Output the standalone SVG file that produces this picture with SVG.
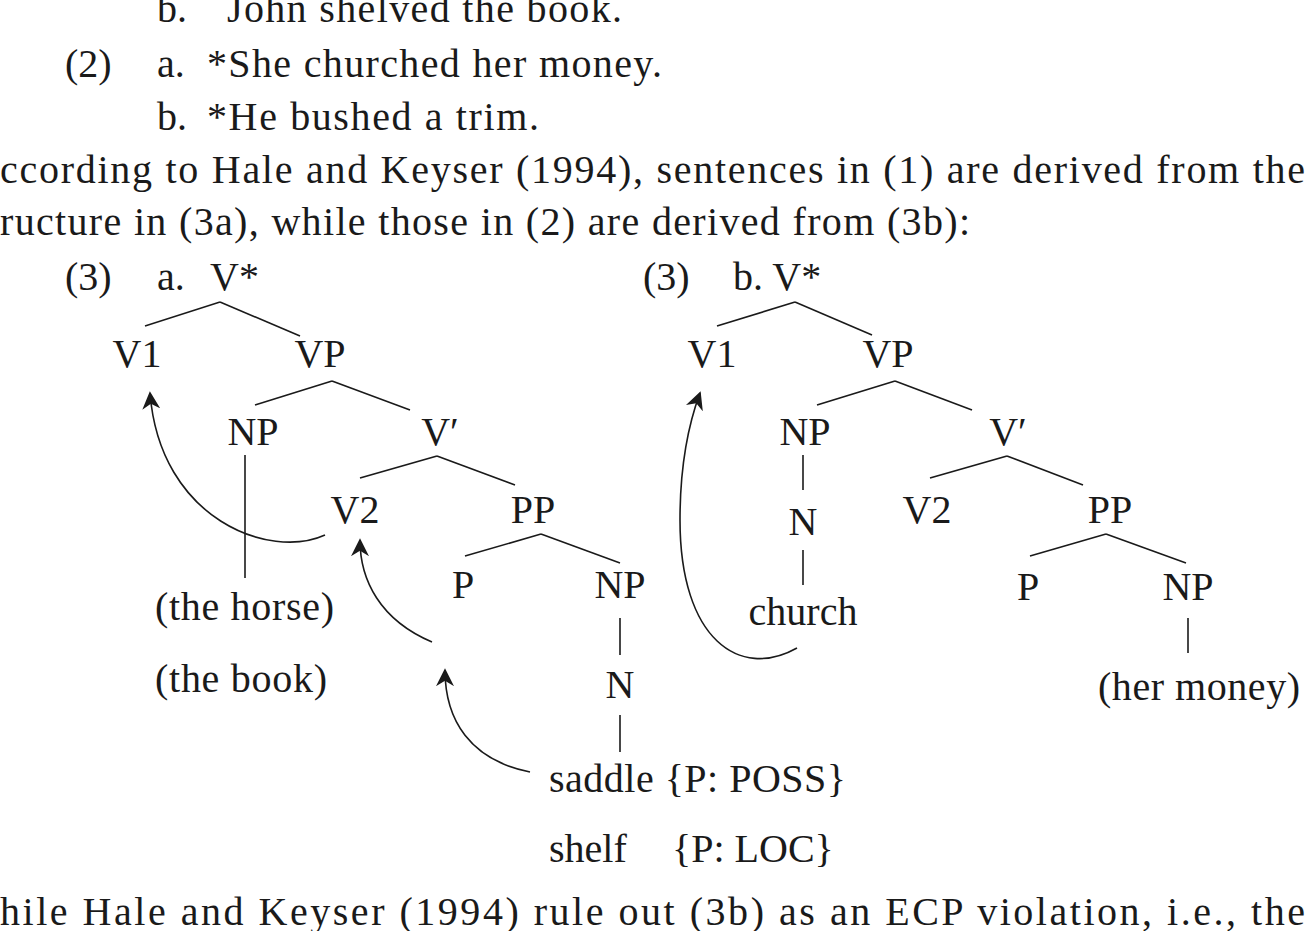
<svg xmlns="http://www.w3.org/2000/svg" width="1311" height="931" viewBox="0 0 1311 931">
<style>
text{font-family:"Liberation Serif","Times New Roman",serif;font-size:40px;fill:#1a1a1a}
.m{text-anchor:middle}
line,path{stroke:#1a1a1a;stroke-width:1.6;fill:none}
</style>
<defs><marker id="ah" viewBox="0 0 10 10" refX="9" refY="5" markerWidth="18" markerHeight="18" markerUnits="userSpaceOnUse" orient="auto"><path d="M0,0 L10,5 L0,10 L3,5 Z" style="fill:#1a1a1a;stroke:none"/></marker></defs>
<rect width="1311" height="931" fill="#fff"/>
<g id="text">
<text x="157" y="22">b.</text><text x="227" y="22" textLength="395" lengthAdjust="spacing">John shelved the book.</text>
<text x="65" y="77">(2)</text><text x="157" y="77">a.</text><text x="207" y="77" textLength="455" lengthAdjust="spacing">*She churched her money.</text>
<text x="157" y="130">b.</text><text x="207" y="130" textLength="332" lengthAdjust="spacing">*He bushed a trim.</text>
<text x="0" y="183" textLength="1305" lengthAdjust="spacing">ccording to Hale and Keyser (1994), sentences in (1) are derived from the</text>
<text x="0" y="235" textLength="970" lengthAdjust="spacing">ructure in (3a), while those in (2) are derived from (3b):</text>
<text x="0" y="925" textLength="1305" lengthAdjust="spacing">hile Hale and Keyser (1994) rule out (3b) as an ECP violation, i.e., the</text>
</g>
<g id="treeA">
<text x="65" y="290">(3)</text><text x="157" y="290">a.</text><text x="210" y="290">V*</text>
<text class="m" x="137" y="367">V1</text><text class="m" x="320" y="367">VP</text>
<text class="m" x="253" y="445">NP</text><text class="m" x="440" y="445">V′</text>
<text class="m" x="355" y="523">V2</text><text class="m" x="533" y="523">PP</text>
<text class="m" x="463" y="598">P</text><text class="m" x="620" y="598">NP</text>
<text class="m" x="620" y="698">N</text>
<text x="549" y="792" textLength="297" lengthAdjust="spacing">saddle {P: POSS}</text>
<text x="549" y="862">shelf</text><text x="672" y="862">{P: LOC}</text>
<text x="155" y="620" textLength="179" lengthAdjust="spacing">(the horse)</text>
<text x="155" y="692" textLength="172" lengthAdjust="spacing">(the book)</text>
</g>
<g id="treeB">
<text x="643" y="290">(3)</text><text x="733" y="290">b. V*</text>
<text class="m" x="712" y="367">V1</text><text class="m" x="888" y="367">VP</text>
<text class="m" x="805" y="445">NP</text><text class="m" x="1008" y="445">V′</text>
<text class="m" x="803" y="535">N</text>
<text class="m" x="803" y="625">church</text>
<text class="m" x="927" y="523">V2</text><text class="m" x="1110" y="523">PP</text>
<text class="m" x="1028" y="600">P</text><text class="m" x="1188" y="600">NP</text>
<text class="m" x="1199" y="700" textLength="202" lengthAdjust="spacing">(her money)</text>
</g>
<g id="connectors">
<line x1="220" y1="302" x2="145" y2="326"/><line x1="220" y1="302" x2="300" y2="336"/>
<line x1="332" y1="381" x2="255" y2="405"/><line x1="332" y1="381" x2="410" y2="410"/>
<line x1="437" y1="456" x2="360" y2="478"/><line x1="437" y1="456" x2="515" y2="485"/>
<line x1="541" y1="534" x2="465" y2="556"/><line x1="541" y1="534" x2="620" y2="563"/>
<line x1="620" y1="618" x2="620" y2="655"/><line x1="620" y1="715" x2="620" y2="752"/>
<line x1="245" y1="455" x2="245" y2="578"/>
<path d="M325,535 C270,560 160,520 150,393" marker-end="url(#ah)"/>
<path d="M432,642 C380,620 360,580 360,540" marker-end="url(#ah)"/>
<path d="M530,772 C470,760 445,720 445,670" marker-end="url(#ah)"/>
<line x1="795" y1="302" x2="717" y2="326"/><line x1="795" y1="302" x2="872" y2="335"/>
<line x1="895" y1="381" x2="817" y2="405"/><line x1="895" y1="381" x2="972" y2="410"/>
<line x1="803" y1="455" x2="803" y2="490"/><line x1="803" y1="550" x2="803" y2="585"/>
<line x1="1007" y1="456" x2="930" y2="478"/><line x1="1007" y1="456" x2="1083" y2="485"/>
<line x1="1106" y1="534" x2="1030" y2="556"/><line x1="1106" y1="534" x2="1186" y2="563"/>
<line x1="1188" y1="618" x2="1188" y2="653"/>
<path d="M797,648 C740,680 680,640 680,520 C680,460 690,420 700,393" marker-end="url(#ah)"/>
</g>
</svg>
